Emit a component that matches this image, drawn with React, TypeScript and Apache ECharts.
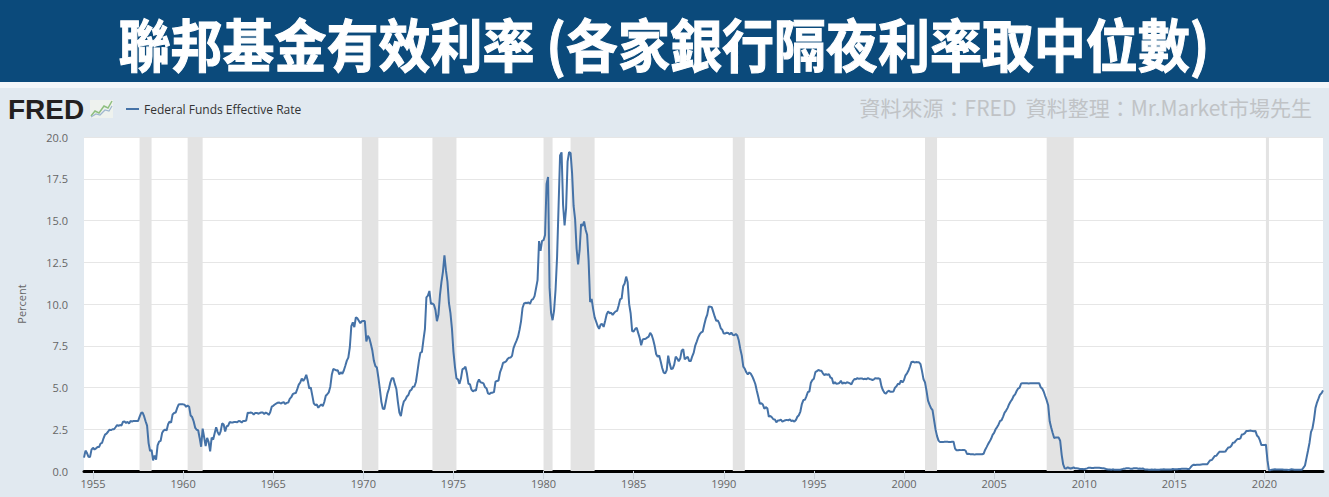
import React, { useEffect, useRef } from "react";
import * as echarts from "echarts";

// Monthly Federal Funds Effective Rate (%), starting July 1954
const START_YEAR = 1954;
const START_MONTH = 7;

const rates1950s = [
  0.80, 1.22, 1.07, 0.85, 0.83, 1.28,
  1.39, 1.29, 1.35, 1.43, 1.43, 1.64, 1.68, 1.96, 2.18, 2.24, 2.35, 2.48,
  2.45, 2.50, 2.50, 2.62, 2.75, 2.71, 2.75, 2.73, 2.95, 2.96, 2.88, 2.94,
  2.84, 3.00, 2.96, 3.00, 3.00, 3.00, 2.99, 3.24, 3.47, 3.50, 3.28, 2.98,
  2.72, 1.67, 1.20, 1.26, 0.63, 0.93, 0.68, 1.53, 1.76, 1.80, 2.27, 2.42,
  2.48, 2.43, 2.80, 2.96, 2.90, 3.39, 3.47, 3.50, 3.76, 3.98, 4.00, 3.99,
];
const rates1960s = [
  3.99, 3.97, 3.84, 3.92, 3.85, 3.32, 3.23, 2.98, 2.60, 2.47, 2.44, 1.98,
  1.45, 2.54, 2.02, 1.49, 1.98, 1.73, 1.17, 2.00, 1.88, 2.26, 2.62, 2.33,
  2.15, 2.37, 2.85, 2.78, 2.36, 2.68, 2.71, 2.93, 2.90, 2.90, 2.94, 2.93,
  2.92, 3.00, 2.98, 2.90, 3.00, 2.99, 3.02, 3.49, 3.48, 3.50, 3.48, 3.38,
  3.48, 3.48, 3.43, 3.47, 3.50, 3.50, 3.42, 3.50, 3.45, 3.36, 3.52, 3.85,
  3.90, 3.98, 4.04, 4.09, 4.10, 4.04, 4.09, 4.12, 4.01, 4.08, 4.10, 4.32,
  4.42, 4.60, 4.65, 4.67, 4.90, 5.17, 5.30, 5.53, 5.40, 5.53, 5.76, 5.40,
  4.94, 5.00, 4.53, 4.05, 3.94, 3.98, 3.79, 3.90, 3.99, 3.88, 4.13, 4.51,
  4.60, 4.71, 5.05, 5.76, 6.11, 6.07, 6.02, 6.03, 5.78, 5.91, 5.82, 6.02,
  6.30, 6.61, 6.79, 7.41, 8.67, 8.90, 8.61, 9.19, 9.15, 9.00, 8.85, 8.97,
];
const rates1970s = [
  8.98, 8.98, 7.76, 8.10, 7.95, 7.61, 7.21, 6.61, 6.29, 6.20, 5.60, 4.90,
  4.14, 3.72, 3.71, 4.16, 4.63, 4.91, 5.31, 5.56, 5.55, 5.20, 4.91, 4.14,
  3.50, 3.29, 3.83, 4.17, 4.27, 4.46, 4.55, 4.80, 4.87, 5.04, 5.06, 5.33,
  5.94, 6.58, 7.09, 7.12, 7.84, 8.49, 10.40, 10.50, 10.78, 10.01, 10.03, 9.95,
  9.65, 8.97, 9.35, 10.51, 11.31, 11.93, 12.92, 12.01, 11.34, 10.06, 9.45, 8.53,
  7.13, 6.24, 5.54, 5.49, 5.22, 5.55, 6.10, 6.14, 6.24, 5.82, 5.22, 5.20,
  4.87, 4.77, 4.84, 4.82, 5.29, 5.48, 5.31, 5.29, 5.25, 5.02, 4.95, 4.65,
  4.61, 4.68, 4.69, 4.73, 5.35, 5.39, 5.42, 5.90, 6.14, 6.47, 6.51, 6.56,
  6.70, 6.78, 6.79, 6.89, 7.36, 7.60, 7.81, 8.04, 8.45, 8.96, 9.76, 10.03,
  10.07, 10.06, 10.09, 10.01, 10.24, 10.29, 10.47, 10.94, 11.43, 13.77, 13.18, 13.78,
];
const rates1980s = [
  13.82, 14.13, 17.19, 17.61, 10.98, 9.47, 9.03, 9.61, 10.87, 12.81, 15.85, 18.90,
  19.08, 15.93, 14.70, 15.72, 18.52, 19.10, 19.04, 17.82, 15.87, 15.08, 13.31, 12.37,
  13.22, 14.78, 14.68, 14.94, 14.45, 14.15, 12.59, 10.12, 10.31, 9.71, 9.20, 8.95,
  8.68, 8.51, 8.77, 8.80, 8.63, 8.98, 9.37, 9.56, 9.45, 9.48, 9.34, 9.47,
  9.56, 9.59, 9.91, 10.29, 10.32, 11.06, 11.23, 11.64, 11.30, 9.99, 9.43, 8.38,
  8.35, 8.50, 8.58, 8.27, 7.97, 7.53, 7.88, 7.90, 7.92, 7.99, 8.05, 8.27,
  8.14, 7.86, 7.48, 6.99, 6.85, 6.92, 6.56, 6.17, 5.89, 5.85, 6.04, 6.91,
  6.43, 6.10, 6.13, 6.37, 6.85, 6.73, 6.58, 6.73, 7.22, 7.29, 6.69, 6.77,
  6.83, 6.58, 6.58, 6.87, 7.09, 7.51, 7.75, 8.01, 8.19, 8.30, 8.35, 8.76,
  9.12, 9.36, 9.85, 9.84, 9.81, 9.53, 9.24, 8.99, 9.02, 8.84, 8.55, 8.45,
];
const rates1990s = [
  8.23, 8.24, 8.28, 8.26, 8.18, 8.29, 8.15, 8.13, 8.20, 8.11, 7.81, 7.31,
  6.91, 6.25, 6.12, 5.91, 5.78, 5.90, 5.82, 5.66, 5.45, 5.21, 4.81, 4.43,
  4.03, 4.06, 3.98, 3.73, 3.82, 3.76, 3.25, 3.30, 3.22, 3.10, 3.09, 2.92,
  3.02, 3.03, 3.07, 2.96, 3.00, 3.04, 3.06, 3.03, 3.09, 2.99, 3.02, 2.96,
  3.05, 3.25, 3.34, 3.56, 4.01, 4.25, 4.26, 4.47, 4.73, 4.76, 5.29, 5.45,
  5.53, 5.92, 5.98, 6.05, 6.01, 6.00, 5.85, 5.74, 5.80, 5.76, 5.80, 5.60,
  5.56, 5.22, 5.31, 5.22, 5.24, 5.27, 5.40, 5.22, 5.30, 5.24, 5.31, 5.29,
  5.25, 5.19, 5.39, 5.51, 5.50, 5.56, 5.52, 5.54, 5.54, 5.50, 5.52, 5.50,
  5.56, 5.51, 5.49, 5.45, 5.49, 5.56, 5.54, 5.55, 5.51, 5.07, 4.83, 4.68,
  4.63, 4.76, 4.81, 4.74, 4.74, 4.76, 4.99, 5.07, 5.22, 5.20, 5.42, 5.30,
];
const rates2000s = [
  5.45, 5.73, 5.85, 6.02, 6.27, 6.53, 6.54, 6.50, 6.52, 6.51, 6.51, 6.40,
  5.98, 5.49, 5.31, 4.80, 4.21, 3.97, 3.77, 3.65, 3.07, 2.49, 2.09, 1.82,
  1.73, 1.74, 1.73, 1.75, 1.75, 1.75, 1.73, 1.74, 1.75, 1.75, 1.34, 1.24,
  1.24, 1.26, 1.25, 1.26, 1.26, 1.22, 1.01, 1.03, 1.01, 1.01, 1.00, 0.98,
  1.00, 1.01, 1.00, 1.00, 1.00, 1.03, 1.26, 1.43, 1.61, 1.76, 1.93, 2.16,
  2.28, 2.50, 2.63, 2.79, 3.00, 3.04, 3.26, 3.50, 3.62, 3.78, 4.00, 4.16,
  4.29, 4.49, 4.59, 4.79, 4.94, 4.99, 5.24, 5.25, 5.25, 5.25, 5.25, 5.24,
  5.25, 5.26, 5.26, 5.25, 5.25, 5.25, 5.26, 5.02, 4.94, 4.76, 4.49, 4.24,
  3.94, 2.98, 2.61, 2.28, 1.98, 2.00, 2.01, 2.00, 1.81, 0.97, 0.39, 0.16,
  0.15, 0.22, 0.18, 0.15, 0.18, 0.21, 0.16, 0.16, 0.15, 0.12, 0.12, 0.12,
];
const rates2010s = [
  0.11, 0.13, 0.16, 0.20, 0.20, 0.18, 0.18, 0.19, 0.19, 0.19, 0.19, 0.18,
  0.17, 0.16, 0.14, 0.10, 0.09, 0.09, 0.07, 0.10, 0.08, 0.07, 0.08, 0.07,
  0.08, 0.10, 0.13, 0.14, 0.16, 0.16, 0.16, 0.13, 0.14, 0.16, 0.16, 0.16,
  0.14, 0.15, 0.14, 0.15, 0.11, 0.09, 0.09, 0.08, 0.08, 0.09, 0.08, 0.09,
  0.07, 0.07, 0.08, 0.09, 0.09, 0.10, 0.09, 0.09, 0.09, 0.09, 0.09, 0.12,
  0.11, 0.11, 0.11, 0.12, 0.12, 0.13, 0.13, 0.14, 0.14, 0.12, 0.12, 0.24,
  0.34, 0.38, 0.36, 0.37, 0.37, 0.38, 0.39, 0.40, 0.40, 0.40, 0.41, 0.54,
  0.65, 0.66, 0.79, 0.90, 0.91, 1.04, 1.15, 1.16, 1.15, 1.15, 1.16, 1.30,
  1.41, 1.42, 1.51, 1.69, 1.70, 1.82, 1.91, 1.91, 1.95, 2.19, 2.20, 2.27,
  2.40, 2.40, 2.41, 2.42, 2.39, 2.38, 2.40, 2.13, 2.04, 1.83, 1.55, 1.55,
];
const rates2020s = [
  1.55, 1.58, 0.65, 0.05, 0.05, 0.08, 0.09, 0.10, 0.09, 0.09, 0.09, 0.09,
  0.09, 0.08, 0.07, 0.07, 0.06, 0.08, 0.10, 0.09, 0.08, 0.08, 0.08, 0.08,
  0.08, 0.08, 0.20, 0.33, 0.77, 1.21, 1.68, 2.33, 2.56, 3.08, 3.78, 4.10,
  4.33, 4.57, 4.65, 4.83,
];

const recessions: [string, string][] = [
  ["1957-08", "1958-04"],
  ["1960-04", "1961-02"],
  ["1969-12", "1970-11"],
  ["1973-11", "1975-03"],
  ["1980-01", "1980-07"],
  ["1981-07", "1982-11"],
  ["1990-07", "1991-03"],
  ["2001-03", "2001-11"],
  ["2007-12", "2009-06"],
  ["2020-02", "2020-04"],
];

const xTickYears = [1955, 1960, 1965, 1970, 1975, 1980, 1985, 1990, 1995, 2000, 2005, 2010, 2015, 2020];

const TITLE = "聯邦基金有效利率 (各家銀行隔夜利率取中位數)";
const SOURCE = "資料來源：FRED  資料整理：Mr.Market市場先生";
const SERIES_NAME = "Federal Funds Effective Rate";

const ym = (s: string) => {
  const [y, m] = s.split("-").map(Number);
  return y + (m - 1) / 12;
};

export default function App() {
  const ref = useRef<HTMLDivElement>(null);
  useEffect(() => {
    if (!ref.current) return;
    const chart = echarts.init(ref.current, null, { renderer: "svg" });
    const all = [...rates1950s, ...rates1960s, ...rates1970s, ...rates1980s, ...rates1990s, ...rates2000s, ...rates2010s, ...rates2020s];
    const x0 = START_YEAR + (START_MONTH - 1) / 12;
    const data = all.map((v, i) => [x0 + i / 12, v]);
    const lastX = data[data.length - 1][0];

    const option: any = {
      animation: false,
      backgroundColor: "#e1e9f0",
      textStyle: { fontFamily: "Open Sans" },
      grid: { left: 84, right: 6, top: 137, bottom: 26, show: true, backgroundColor: "#ffffff", borderWidth: 0 },
      legend: {
        data: [SERIES_NAME],
        left: 121,
        top: 98,
        icon: "rect",
        itemWidth: 13,
        itemHeight: 2,
        textStyle: { fontSize: 12, color: "#333333", fontFamily: "Open Sans" },
      },
      xAxis: {
        type: "value",
        min: x0,
        max: lastX,
        axisLine: { show: true, lineStyle: { color: "#000000", width: 3 } },
        axisTick: { show: true, customValues: xTickYears, length: 8, lineStyle: { color: "#c8d2dc" } },
        axisLabel: {
          customValues: xTickYears,
          formatter: (v: number) => String(Math.round(v)),
          color: "#666666",
          fontSize: 11,
          margin: 7,
          fontFamily: "Open Sans",
        },
        splitLine: { show: false },
      },
      yAxis: {
        type: "value",
        min: 0,
        max: 20,
        interval: 2.5,
        name: "Percent",
        nameLocation: "middle",
        nameGap: 57,
        nameTextStyle: { color: "#666666", fontSize: 11, fontFamily: "Open Sans" },
        axisLine: { show: false },
        axisTick: { show: false },
        axisLabel: { formatter: (v: number) => v.toFixed(1), color: "#666666", fontSize: 11, margin: 16, fontFamily: "Open Sans" },
        splitLine: { lineStyle: { color: "#e6e6e6", width: 1 } },
      },
      series: [
        {
          name: "Recessions",
          type: "line",
          data: [],
          z: 1,
          silent: true,
          markArea: {
            silent: true,
            itemStyle: { color: "#e3e3e3" },
            data: recessions.map(([a, b]) => [{ xAxis: ym(a) }, { xAxis: ym(b) }]),
          },
        },
        {
          name: SERIES_NAME,
          type: "line",
          data,
          z: 3,
          showSymbol: false,
          symbol: "none",
          lineStyle: { color: "#4572a7", width: 2 },
          itemStyle: { color: "#4572a7" },
        },
      ],
      graphic: [
        { type: "rect", shape: { x: 0, y: 0, width: 1329, height: 82 }, style: { fill: "#0b4a7b" }, z: 10 },
        { type: "rect", shape: { x: 0, y: 82, width: 1329, height: 6 }, style: { fill: "#f3f6f9" }, z: 10 },
        {
          type: "text",
          x: 664,
          y: 42,
          scaleY: 1.1,
          z: 11,
          style: {
            text: TITLE,
            fill: "#ffffff",
            stroke: "#ffffff",
            lineWidth: 1,
            fontSize: 52,
            fontWeight: "bold",
            fontFamily: "Noto Sans CJK TC",
            textAlign: "center",
            textVerticalAlign: "middle",
            align: "center",
            verticalAlign: "middle",
            shadowColor: "rgba(0,20,40,0.8)",
            shadowBlur: 3,
            shadowOffsetX: 2,
            shadowOffsetY: 2,
          },
        },
        {
          type: "text",
          x: 8,
          y: 109,
          z: 11,
          style: {
            text: "FRED",
            fill: "#231f20",
            fontSize: 28,
            fontWeight: "bold",
            fontFamily: "Liberation Sans",
            verticalAlign: "middle",
            textVerticalAlign: "middle",
          },
        },
        { type: "rect", shape: { x: 90, y: 100, width: 23, height: 18 }, style: { fill: "#eef2ee" }, z: 11 },
        {
          type: "polyline",
          shape: { points: [[91, 116], [95, 111], [99, 113], [104, 106], [108, 108], [112, 101]] },
          style: { stroke: "#8fbf7f", lineWidth: 1.5, fill: "none" },
          z: 12,
        },
        {
          type: "polyline",
          shape: { points: [[91, 117], [96, 114], [100, 115], [105, 110], [109, 111], [112, 106]] },
          style: { stroke: "#9fb7cf", lineWidth: 1.2, fill: "none" },
          z: 12,
        },
        {
          type: "text",
          x: 1312,
          y: 107,
          z: 11,
          style: {
            text: SOURCE,
            fill: "#c0c3c6",
            fontSize: 21,
            fontFamily: "Noto Sans CJK TC",
            align: "right",
            textAlign: "right",
            verticalAlign: "middle",
            textVerticalAlign: "middle",
          },
        },
      ],
    };
    chart.setOption(option);
    return () => chart.dispose();
  }, []);
  return <div ref={ref} style={{ position: "fixed", left: 0, top: 0, width: 1329, height: 497 }} />;
}
